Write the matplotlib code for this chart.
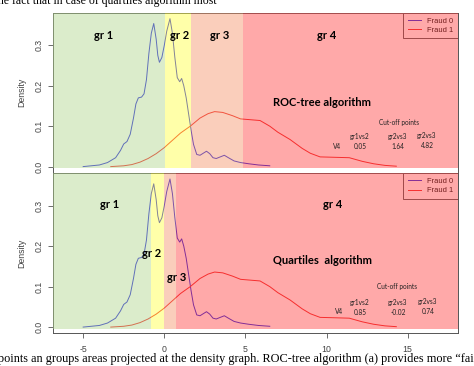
import matplotlib
matplotlib.use("Agg")
import matplotlib.pyplot as plt

# density estimates
x_fraud0 = [-5.0, -4.5, -4.0, -3.5, -3.0, -2.7, -2.5, -2.3, -2.1, -1.9,
            -1.75, -1.6, -1.4, -1.25, -1.1, -0.95, -0.8, -0.65, -0.5, -0.4,
            -0.3, -0.15, 0.0, 0.15, 0.35, 0.5, 0.65, 0.8, 0.95, 1.07,
            1.2, 1.35, 1.5, 1.65, 1.8, 2.0, 2.2, 2.4, 2.6, 2.8,
            3.0, 3.2, 3.45, 3.7, 3.95, 4.3, 4.7, 5.2, 5.8, 6.5]
y_fraud0 = [0.0, 0.002, 0.004, 0.01, 0.022, 0.04, 0.056, 0.062, 0.08, 0.12,
            0.155, 0.17, 0.172, 0.18, 0.215, 0.28, 0.33, 0.354, 0.315, 0.275,
            0.258, 0.27, 0.3, 0.335, 0.366, 0.33, 0.27, 0.22, 0.21, 0.218,
            0.2, 0.17, 0.13, 0.09, 0.055, 0.03, 0.028, 0.033, 0.038, 0.032,
            0.022, 0.02, 0.024, 0.028, 0.022, 0.014, 0.01, 0.007, 0.004, 0.002]

x_fraud1 = [-3.3, -2.5, -2.0, -1.5, -1.0, -0.5, 0.0, 0.5, 1.0, 1.6,
            2.2, 2.7, 3.1, 3.6, 4.2, 4.7, 5.3, 5.9, 6.5, 7.0,
            7.75, 8.5, 9.0, 9.6, 10.5, 11.4, 12.2, 12.9, 13.6, 14.3]
y_fraud1 = [0.0, 0.002, 0.005, 0.011, 0.02, 0.032, 0.047, 0.065, 0.083, 0.1,
            0.12, 0.131, 0.136, 0.134, 0.126, 0.118, 0.116, 0.114, 0.1, 0.085,
            0.067, 0.045, 0.033, 0.024, 0.023, 0.022, 0.013, 0.007, 0.003, 0.001]

# cut-off points (gr1vs2, gr2vs3, gr3vs4)
cuts_roc = [0.05, 1.64, 4.82]
cuts_quart = [-0.85, -0.02, 0.74]
cut_labels_roc = ["0.05", "1.64", "4.82"]
cut_labels_quart = ["0.85", "-0.02", "0.74"]
cut_names = ["gr1vs2", "gr2vs3", "gr2vs3"]

xticks = [-5, 0, 5, 10, 15]
yticks = [0.0, 0.1, 0.2, 0.3]

# translucent group overlays, drawn above the curves
group_colors = ["#b1d58d", "#ffff42", "#f49468", "#ff4242"]
xmin, xmax = -6.86, 18.1
tick_font = dict(family="Liberation Sans", color="#444444", fontsize=6.3)

fig = plt.figure(figsize=(4.74, 3.66), dpi=100)
ax_top = fig.add_axes([0.1118, 0.5287, 0.8544, 0.4358])
ax_bot = fig.add_axes([0.1118, 0.0902, 0.8544, 0.4363])

for ax, cuts in [(ax_top, cuts_roc), (ax_bot, cuts_quart)]:
    ax.plot(x_fraud0, y_fraud0, color="#1e1edc", lw=0.7, label="Fraud 0", zorder=2)
    ax.plot(x_fraud1, y_fraud1, color="#f01e1e", lw=0.7, label="Fraud 1", zorder=2)
    edges = [xmin] + cuts + [xmax]
    for i in range(4):
        ax.axvspan(edges[i], edges[i + 1], ymin=0.027, ymax=1.0,
                   color=group_colors[i], alpha=0.45, lw=0, zorder=3)
    ax.set_xlim(xmin, xmax)
    ax.set_ylim(-0.0146, 0.38)
    ax.set_yticks(yticks)
    ax.set_yticklabels(["0.0", "0.1", "0.2", "0.3"], rotation=90, va="center",
                       **tick_font)
    ax.tick_params(axis="y", length=3.5, width=0.6, color="#555555", pad=3)
    ax.set_ylabel("Density", labelpad=6, **tick_font)
    for s in ax.spines.values():
        s.set_color("#555555")
        s.set_linewidth(0.7)
    leg = ax.legend(loc="upper right", bbox_to_anchor=(1.0, 1.0), borderaxespad=0,
                    handlelength=1.8, fancybox=False, framealpha=1,
                    edgecolor="#333333", borderpad=0.6, labelspacing=0.25,
                    prop={"family": "Liberation Sans", "size": 5.4})
    leg.set_zorder(1)
    leg.get_frame().set_linewidth(0.6)

ax_top.spines["bottom"].set_visible(False)
ax_top.set_xticks([])

ax_bot.set_xticks(xticks)
ax_bot.set_xticklabels([str(t) for t in xticks], **tick_font)
ax_bot.tick_params(axis="x", length=3.5, width=0.6, color="#555555", pad=5)

bold = dict(family="Lato", weight="bold", color="black", ha="center", va="center",
            fontsize=8, zorder=5)
small = dict(family="Lato", color="#222222", ha="center", va="center", fontsize=4.7, zorder=5)

# top panel: ROC-tree
ax_top.text(-3.77, 0.324, "gr 1", **bold)
ax_top.text(0.97, 0.324, "gr 2", **bold)
ax_top.text(3.43, 0.324, "gr 3", **bold)
ax_top.text(10.02, 0.324, "gr 4", **bold)
ax_top.text(9.72, 0.159, "ROC-tree algorithm", **bold)
ax_top.text(14.46, 0.109, "Cut-off points", **small)
ax_top.text(10.64, 0.049, "V4", **small)
for xp, yp, name, val in zip([12.06, 14.4, 16.19], [0.074, 0.074, 0.077],
                             cut_names, cut_labels_roc):
    ax_top.text(xp, yp, name, **small)
    ax_top.text(xp, yp - 0.024, val, **small)

# bottom panel: quartiles
ax_bot.text(-3.34, 0.304, "gr 1", **bold)
ax_bot.text(-0.76, 0.183, "gr 2", **bold)
ax_bot.text(0.78, 0.122, "gr 3", **bold)
ax_bot.text(10.39, 0.302, "gr 4", **bold)
ax_bot.text(9.78, 0.164, "Quartiles  algorithm", **bold)
ax_bot.text(14.34, 0.0995, "Cut-off points", **small)
ax_bot.text(10.76, 0.038, "V4", **small)
for xp, yp, name, val in zip([12.06, 14.4, 16.25], [0.06, 0.06, 0.0625],
                             cut_names, cut_labels_quart):
    ax_bot.text(xp, yp, name, **small)
    ax_bot.text(xp, yp - 0.023, val, **small)

# surrounding caption text from the page
fig.text(-0.005, 0.988, "he fact that in case of quartiles algorithm most",
         family="Liberation Serif", fontsize=8.5, va="baseline", ha="left")
fig.text(-0.005, 0.01, "points an groups areas projected at the density graph. "
         "ROC-tree algorithm (a) provides more \u201cfai",
         family="Liberation Serif", fontsize=8.8, va="baseline", ha="left")

fig.savefig("out.png", dpi=100)
